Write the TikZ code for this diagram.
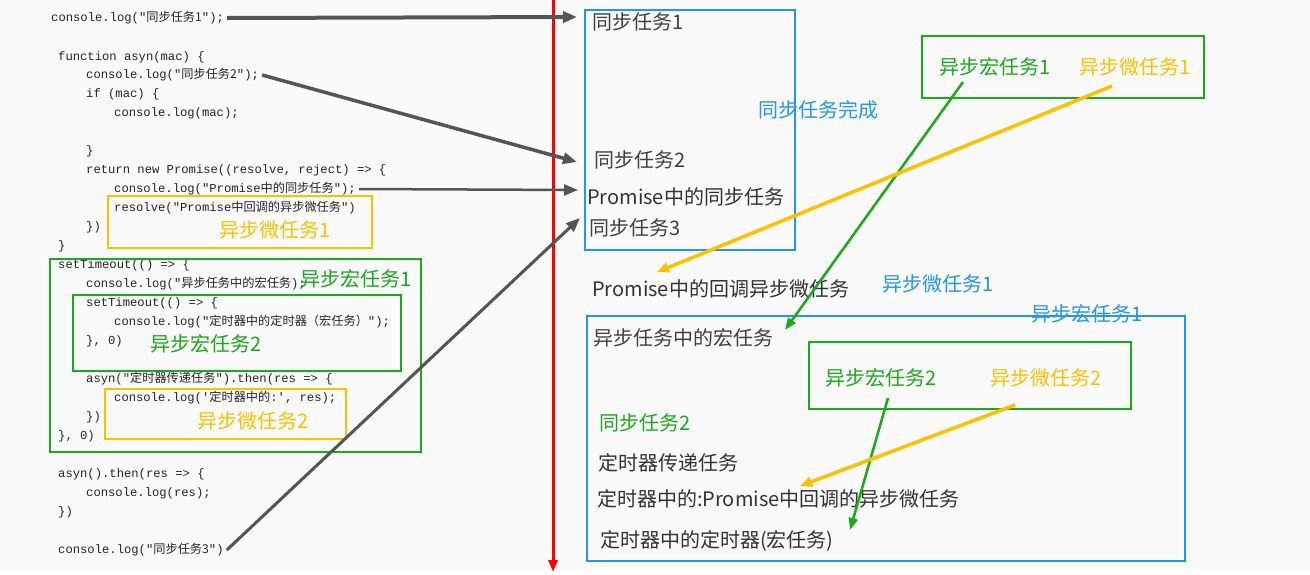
\documentclass[tikz,border=0pt]{standalone}
\usepackage{fontspec}
\setmainfont{Noto Sans CJK SC}
\setmonofont{Liberation Mono}
\newfontfamily\cjk{Noto Sans CJK SC}
\newcommand\zh[1]{{\cjk #1}}
\usetikzlibrary{arrows.meta}
\definecolor{bl}{HTML}{2196F3}
\definecolor{gr}{HTML}{1AAA1A}
\definecolor{og}{HTML}{FFC000}
\definecolor{dk}{HTML}{555555}
\begin{document}
\begin{tikzpicture}[x=1pt,y=-1pt,
 code/.style={anchor=west,inner sep=0,font=\ttfamily\fontsize{12.2}{13}\selectfont,text=black!85},
 lab/.style={inner sep=0,font=\fontsize{20}{22}\selectfont},
 big/.style={->,>={Triangle[length=14pt,width=11pt]},line width=4pt,dk},
 ga/.style={->,>={Triangle[length=12pt,width=9pt]},line width=2.5pt,gr},
 oa/.style={->,>={Triangle[length=12pt,width=10pt]},line width=3.5pt,og}]
\fill[white] (0,0) rectangle (1310,574);
\useasboundingbox (0,0) rectangle (1310,574);
\fill[black!2] (0,0) rectangle (1310,570);
% code
\node[code] (c1) at (51,18) {console.log("\zh{同步任务1}");};
\node[code] (c2) at (58,57) {function asyn(mac) \{};
\node[code] (c3) at (86,75) {console.log("\zh{同步任务2}");};
\node[code] (c4) at (86,94) {if (mac) \{};
\node[code] (c5) at (114,113) {console.log(mac);};
\node[code] (c6) at (86,151) {\}};
\node[code] (c7) at (86,170) {return new Promise((resolve, reject) => \{};
\node[code] (c8) at (114,189) {console.log("Promise\zh{中的同步任务}");};
\node[code] (c9) at (114,208) {resolve("Promise\zh{中回调的异步微任务}")};
\node[code] (c10) at (86,227) {\})};
\node[code] (c11) at (58,246) {\}};
\node[code] (c12) at (58,265) {setTimeout(() => \{};
\node[code] (c13) at (86,284) {console.log("\zh{异步任务中的宏任务});};
\node[code] (c14) at (86,303) {setTimeout(() => \{};
\node[code] (c15) at (114,322) {console.log("\zh{定时器中的定时器（宏任务）}");};
\node[code] (c16) at (86,341) {\}, 0)};
\node[code] (c17) at (86,379) {asyn("\zh{定时器传递任务}").then(res => \{};
\node[code] (c18) at (114,398) {console.log('\zh{定时器中的}:', res);};
\node[code] (c19) at (86,417) {\})};
\node[code] (c20) at (58,436) {\}, 0)};
\node[code] (c21) at (58,474) {asyn().then(res => \{};
\node[code] (c22) at (86,493) {console.log(res);};
\node[code] (c23) at (58,512) {\})};
\node[code] (c24) at (58,550) {console.log("\zh{同步任务3}")};
% left boxes
\draw[og,line width=1.5pt] (108,196) rectangle (372,248);
\node[lab,text=og] (l1) at (275,230) {异步微任务1};
\draw[gr,line width=1.5pt] (50,259) rectangle (421,452);
\node[lab,text=gr] (l2) at (356,279) {异步宏任务1};
\draw[gr,line width=1.5pt] (73,295) rectangle (401,371);
\node[lab,text=gr] (l3) at (206,344) {异步宏任务2};
\draw[og,line width=1.5pt] (105,389) rectangle (346,439);
\node[lab,text=og] (l4) at (253,421) {异步微任务2};
% red line
\coordinate (rt) at (553,0);
\coordinate (rb) at (553,572);
\draw[red,line width=3pt,-{Triangle[length=12pt,width=9pt]}] (rt) -- (rb);
% right box 1
\draw[bl,line width=1.5pt] (585,10) rectangle (795,250);
\node[lab,anchor=west,text=black!75] (s1) at (592,22) {同步任务1};
\node[lab,text=bl] (sd) at (818,110) {同步任务完成};
\node[lab,anchor=west,text=black!75] (s2) at (594,160) {同步任务2};
\node[lab,anchor=west,text=black!80] (sp) at (587,197) {Promise中的同步任务};
\node[lab,anchor=west,text=black!75] (s3) at (589,228) {同步任务3};
% top green box
\draw[gr,line width=1.5pt] (922,36) rectangle (1204,98);
\node[lab,text=gr] (m1) at (995,67) {异步宏任务1};
\node[lab,text=og] (u1) at (1135,67) {异步微任务1};
\node[lab,anchor=west,text=black!80] (pc) at (592,289) {Promise中的回调异步微任务};
\node[lab,text=bl] (bu1) at (938,284) {异步微任务1};
\node[lab,text=bl] (bm1) at (1087,314) {异步宏任务1};
% right box 2
\draw[bl,line width=1.5pt] (587,316) rectangle (1185,561);
\node[lab,anchor=west,text=black!75] (am) at (593,338) {异步任务中的宏任务};
\draw[gr,line width=1.5pt] (809,342) rectangle (1131,409);
\node[lab,text=gr] (m2) at (881,378) {异步宏任务2};
\node[lab,text=og] (u2) at (1046,378) {异步微任务2};
\node[lab,anchor=west,text=gr] (g2) at (599,423) {同步任务2};
\node[lab,anchor=west,text=black!80] (t1) at (598,463) {定时器传递任务};
\node[lab,anchor=west,text=black!80] (t2) at (597,499) {定时器中的:Promise中回调的异步微任务};
\node[lab,anchor=west,text=black!80] (t3) at (600,541) {定时器中的定时器(宏任务)};
% arrows
\coordinate (a1) at (577,17);
\coordinate (a2) at (577,162);
\coordinate (a3) at (578,190);
\coordinate (a4) at (580,218);
\draw[big] ([xshift=3pt]c1.east) -- (a1);
\draw[big,line width=3.5pt] ([xshift=3pt]c3.east) -- (a2);
\draw[big,line width=2.5pt] ([xshift=3pt]c8.east) -- (a3);
\draw[big,line width=3pt] ([xshift=3pt]c24.east) -- (a4);
\coordinate (e1) at (785,330);
\coordinate (e2) at (657,272);
\coordinate (e3) at (850,530);
\coordinate (e4) at (800,486);
\draw[ga] (963,82) -- (e1);
\draw[oa] (1112,86) -- (e2);
\draw[ga] (888,398) -- (e3);
\draw[oa] (1015,405) -- (e4);
\end{tikzpicture}
\end{document}
